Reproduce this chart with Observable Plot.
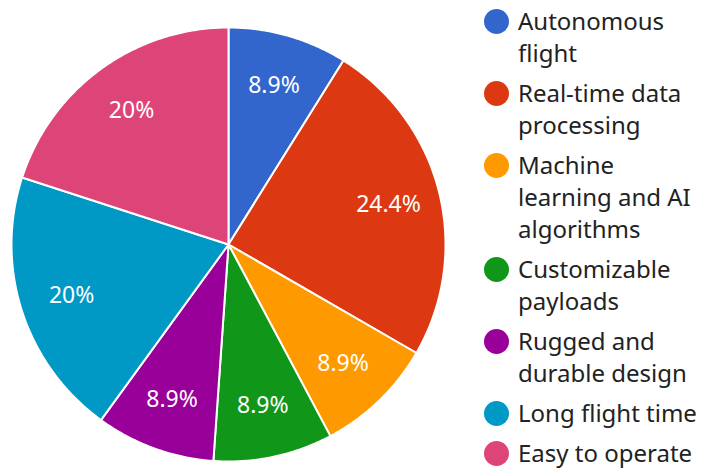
<!DOCTYPE html>
<html>
<head>
<meta charset="utf-8">
<script src="https://cdn.jsdelivr.net/npm/d3@7"></script>
<script src="https://cdn.jsdelivr.net/npm/@observablehq/plot@0.6"></script>
<style>
  html, body { margin: 0; padding: 0; background: #fff; }
  body { width: 702px; height: 468px; position: relative; overflow: hidden; font-family: "Noto Sans", sans-serif; }
  #chart { position: absolute; left: 0; top: 0; }
  #legend { position: absolute; left: 484px; top: 5px; width: 218px; }
  .item { display: flex; align-items: flex-start; margin-bottom: 8px; }
  .sw { width: 25px; height: 25px; border-radius: 50%; flex: none; margin-top: 3.5px; margin-right: 9px; }
  .lab { font-size: 24px; line-height: 32px; color: #222; width: 184px; }
</style>
</head>
<body>
<div id="chart"></div>
<div id="legend"></div>
<script>
const categories = ["Autonomous flight", "Real-time data processing", "Machine learning and AI algorithms", "Customizable payloads", "Rugged and durable design", "Long flight time", "Easy to operate"];
const values = [4, 11, 4, 4, 4, 9, 9];
const labels = ["8.9%", "24.4%", "8.9%", "8.9%", "8.9%", "20%", "20%"];
const colors = ["#3366cc", "#dc3912", "#ff9900", "#109618", "#990099", "#0099c6", "#dd4477"];

const data = categories.map((c, i) => ({category: c, value: values[i], label: labels[i]}));
const arcs = d3.pie().sort(null).value(d => d.value).startAngle(0).endAngle(2 * Math.PI)(data);

// polygon outline for each slice
const pts = [];
for (const a of arcs) {
  const c = a.data.category;
  pts.push({category: c, x: 0, y: 0});
  const n = Math.max(2, Math.ceil((a.endAngle - a.startAngle) / 0.01));
  for (let k = 0; k <= n; k++) {
    const t = a.startAngle + (a.endAngle - a.startAngle) * k / n;
    pts.push({category: c, x: Math.sin(t), y: Math.cos(t)});
  }
  pts.push({category: c, x: 0, y: 0});
}
const labelR = 0.76;
const labelPts = arcs.map(a => {
  const m = (a.startAngle + a.endAngle) / 2;
  return {label: a.data.label, x: labelR * Math.sin(m), y: labelR * Math.cos(m)};
});

const plot = Plot.plot({
  width: 702,
  height: 468,
  marginLeft: 11,
  marginRight: 257,
  marginTop: 27,
  marginBottom: 7,
  x: {domain: [-1, 1], axis: null},
  y: {domain: [-1, 1], axis: null},
  color: {domain: categories, range: colors},
  style: {fontFamily: "Noto Sans, sans-serif", background: "white"},
  marks: [
    Plot.line(pts, {x: "x", y: "y", z: "category", fill: "category", stroke: "white", strokeWidth: 2, strokeLinejoin: "round", curve: "linear"}),
    Plot.text(labelPts, {x: "x", y: "y", text: "label", fill: "white", fontSize: 23, textAnchor: "middle"})
  ]
});
document.getElementById("chart").appendChild(plot);

const legend = document.getElementById("legend");
categories.forEach((c, i) => {
  const item = document.createElement("div");
  item.className = "item";
  const sw = document.createElement("div");
  sw.className = "sw";
  sw.style.background = colors[i];
  const lab = document.createElement("div");
  lab.className = "lab";
  lab.textContent = c;
  item.appendChild(sw);
  item.appendChild(lab);
  legend.appendChild(item);
});
</script>
</body>
</html>
